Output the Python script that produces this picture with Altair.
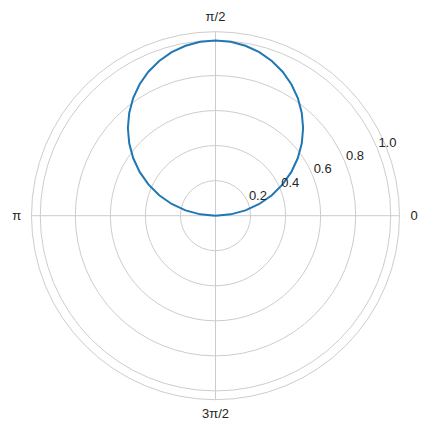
import altair as alt
import pandas as pd

# ---- data (r = radius at each polar angle, degrees) ----
theta_deg = [0, 5, 10, 15, 20, 25, 30, 35, 40, 45, 50, 55, 60, 65, 70, 75, 80, 85, 90,
             95, 100, 105, 110, 115, 120, 125, 130, 135, 140, 145, 150, 155, 160, 165, 170, 175, 180]
r_vals = [0.0, 0.0872, 0.1736, 0.2588, 0.3420, 0.4226, 0.5, 0.5736, 0.6428, 0.7071,
          0.7660, 0.8192, 0.8660, 0.9063, 0.9397, 0.9659, 0.9848, 0.9962, 1.0,
          0.9962, 0.9848, 0.9659, 0.9397, 0.9063, 0.8660, 0.8192, 0.7660, 0.7071,
          0.6428, 0.5736, 0.5, 0.4226, 0.3420, 0.2588, 0.1736, 0.0872, 0.0]

r_ticks = [0.2, 0.4, 0.6, 0.8, 1.0]
r_tick_labels = ["0.2", "0.4", "0.6", "0.8", "1.0"]
theta_ticks_deg = [0, 90, 180, 270]
theta_tick_labels = ["0", "π/2", "π", "3π/2"]
r_max = 1.05
r_label_angle = 22.5
theta_label_r = 1.134

# ---- layout ----
R = 184  # pixel radius of outer spine
W = 2 * R
grid_color = "#cccccc"
text_color = "#262626"
font = "Liberation Sans"
fsize = 13

xs = alt.Scale(domain=[-r_max, r_max], nice=False, zero=False)
ys = alt.Scale(domain=[-r_max, r_max], nice=False, zero=False)
rs = alt.Scale(type="linear", domain=[0, r_max], range=[0, R], zero=True, nice=False)

rings_df = pd.DataFrame({"r": r_ticks + [r_max]})
spokes_df = pd.DataFrame({"t": theta_ticks_deg})
curve_df = pd.DataFrame({"theta": theta_deg, "r": r_vals, "i": list(range(len(theta_deg)))})
rlab_df = pd.DataFrame({"r": r_ticks, "lab": r_tick_labels})
tlab_df = pd.DataFrame({"t": theta_ticks_deg, "lab": theta_tick_labels})

rings = alt.Chart(rings_df).mark_arc(
    theta=0, theta2=6.2832, fillOpacity=0, stroke=grid_color, strokeWidth=1
).encode(
    radius=alt.Radius("r:Q", scale=rs, stack=False),
)

spokes = alt.Chart(spokes_df).transform_calculate(
    cx="0",
    cy="0",
    ex=f"{r_max}*cos(datum.t*PI/180)",
    ey=f"{r_max}*sin(datum.t*PI/180)",
).mark_rule(color=grid_color, strokeWidth=1).encode(
    x=alt.X("cx:Q", scale=xs, axis=None),
    y=alt.Y("cy:Q", scale=ys, axis=None),
    x2="ex:Q",
    y2="ey:Q",
)

line = alt.Chart(curve_df).transform_calculate(
    px="datum.r*cos(datum.theta*PI/180)",
    py="datum.r*sin(datum.theta*PI/180)",
).mark_line(color="#1f77b4", strokeWidth=2).encode(
    x=alt.X("px:Q", scale=xs, axis=None),
    y=alt.Y("py:Q", scale=ys, axis=None),
    order="i:Q",
)

rlabels = alt.Chart(rlab_df).transform_calculate(
    px=f"datum.r*cos({r_label_angle}*PI/180)",
    py=f"datum.r*sin({r_label_angle}*PI/180)",
).mark_text(
    align="left", baseline="alphabetic", dx=1, dy=-2,
    font=font, fontSize=fsize, color=text_color
).encode(
    x=alt.X("px:Q", scale=xs, axis=None),
    y=alt.Y("py:Q", scale=ys, axis=None),
    text="lab:N",
)

tlabels = alt.Chart(tlab_df).transform_calculate(
    px=f"{theta_label_r}*cos(datum.t*PI/180)",
    py=f"{theta_label_r}*sin(datum.t*PI/180)",
).mark_text(
    align="center", baseline="middle",
    font=font, fontSize=fsize, color=text_color
).encode(
    x=alt.X("px:Q", scale=xs, axis=None),
    y=alt.Y("py:Q", scale=ys, axis=None),
    text="lab:N",
)

chart = alt.layer(rings, spokes, line, rlabels, tlabels).properties(
    width=W,
    height=W,
    padding={"left": 23.5, "top": 23.7, "right": 18, "bottom": 24},
    autosize=alt.AutoSizeParams(type="none"),
    background="white",
).configure_view(strokeWidth=0)

chart.save("out.html", embed_options={"renderer": "svg", "actions": False})
